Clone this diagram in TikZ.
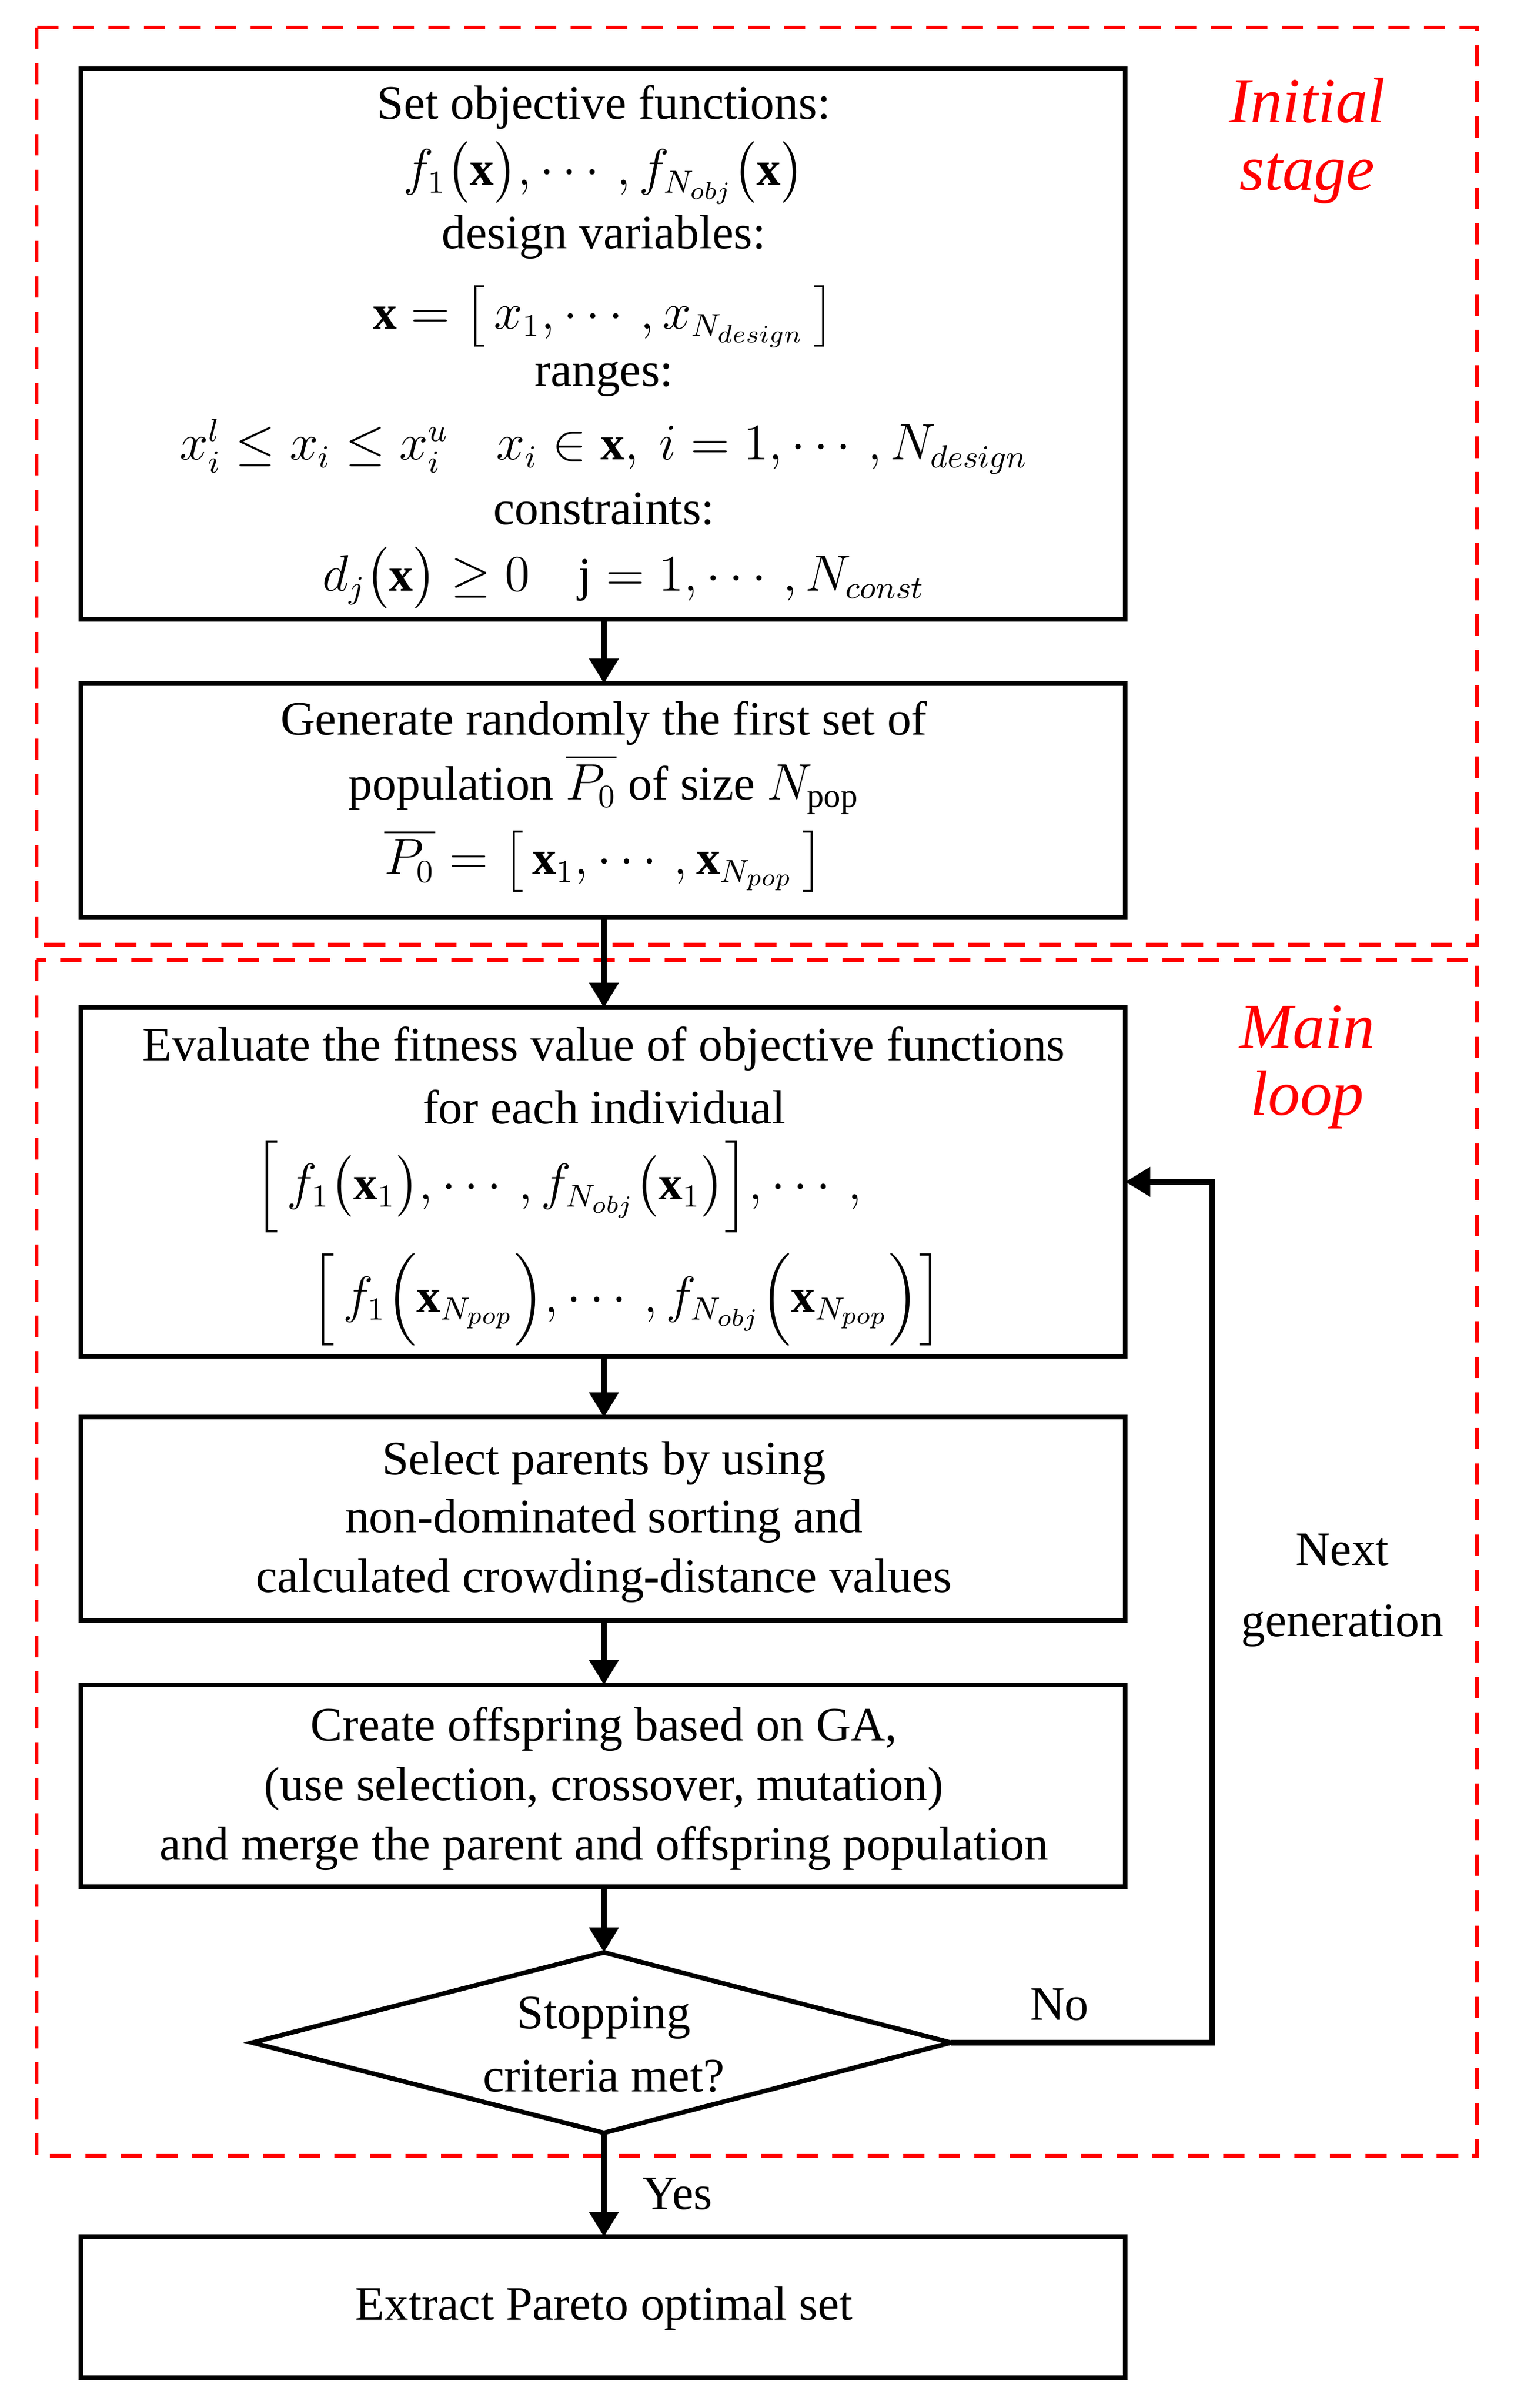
\documentclass[tikz,border=0pt]{standalone}
\usepackage{amsmath}
\usepackage{fontspec}
\setmainfont{Liberation Serif}
\usetikzlibrary{arrows.meta,shapes.geometric}
\begin{document}
\begin{tikzpicture}[x=0.43pt,y=-0.43pt,
  box/.style={draw,line width=1.3pt},
  stage/.style={draw=red,dashed,line width=1.1pt,dash pattern=on 6pt off 4pt},
  t/.style={font=\fontsize{13.5}{16}\selectfont,inner sep=0},
  lab/.style={text=red,font=\fontsize{18}{21}\selectfont\itshape,align=center},
  arr/.style={line width=1.6pt,-{Triangle[length=7pt,width=8pt]}}]
\useasboundingbox (0,0) rectangle (990,1575);
\draw[stage] (24,18) rectangle (966,618);
\draw[stage] (24,628) rectangle (966,1410);
\node[lab] at (855,92) {Initial\\[-2pt]stage};
\node[lab] at (855,698) {Main\\[-2pt]loop};
% box1
\draw[box] (53,45) rectangle (736,405);
\coordinate (b1t) at (395,405);
\node[t] at (395,70) {Set objective functions:};
\node[t] at (395,113) {$f_1\bigl(\mathbf{x}\bigr),\cdots,f_{N_{obj}}\bigl(\mathbf{x}\bigr)$};
\node[t] at (395,155) {design variables:};
\node[t] at (395,207) {$\mathbf{x}=\bigl[\,x_1,\cdots,x_{N_{design}}\,\bigr]$};
\node[t] at (395,248) {ranges:};
\node[t] at (395,292) {$x_i^{l}\le x_i\le x_i^{u}\quad x_i\in\mathbf{x},\ i=1,\cdots,N_{design}$};
\node[t] at (395,333) {constraints:};
\node[t] at (408,378) {$d_j\bigl(\mathbf{x}\bigr)\ge 0\quad \mathrm{j}=1,\cdots,N_{const}$};
% box2
\draw[box] (53,447) rectangle (736,600);
\coordinate (b2t) at (395,447);
\coordinate (b2b) at (395,600);
\node[t] at (395,473) {Generate randomly the first set of};
\node[t] at (395,513) {population $\overline{P_0}$ of size $N_{\text{pop}}$};
\node[t] at (395,563) {$\overline{P_0}=\bigl[\,\mathbf{x}_1,\cdots,\mathbf{x}_{N_{pop}}\,\bigr]$};
% box3
\draw[box] (53,659) rectangle (736,887);
\coordinate (b3t) at (395,659);
\coordinate (b3b) at (395,887);
\coordinate (b3r) at (736,773);
\node[t] at (395,686) {Evaluate the fitness value of objective functions};
\node[t] at (395,724) {for each individual};
\node[t] at (365,776) {$\Bigl[\,f_1\bigl(\mathbf{x}_1\bigr),\cdots,f_{N_{obj}}\bigl(\mathbf{x}_1\bigr)\Bigr],\cdots,$};
\node[t] at (410,850) {$\Bigl[\,f_1\Bigl(\mathbf{x}_{N_{pop}}\Bigr),\cdots,f_{N_{obj}}\Bigl(\mathbf{x}_{N_{pop}}\Bigr)\Bigr]$};
% box4
\draw[box] (53,927) rectangle (736,1060);
\coordinate (b4t) at (395,927);
\coordinate (b4b) at (395,1060);
\node[t] at (395,957) {Select parents by using};
\node[t] at (395,995) {non-dominated sorting and};
\node[t] at (395,1034) {calculated crowding-distance values};
% box5
\draw[box] (53,1102) rectangle (736,1234);
\coordinate (b5t) at (395,1102);
\coordinate (b5b) at (395,1234);
\node[t] at (395,1131) {Create offspring based on GA,};
\node[t] at (395,1170) {(use selection, crossover, mutation)};
\node[t] at (395,1209) {and merge the parent and offspring population};
% diamond
\draw[box] (165,1336) -- (395,1277) -- (622,1336) -- (395,1395) -- cycle;
\coordinate (dt) at (395,1277);
\coordinate (db) at (395,1395);
\coordinate (dr) at (622,1336);
\node[t] at (395,1320) {Stopping};
\node[t] at (395,1358) {criteria met?};
% final
\draw[box] (53,1463) rectangle (736,1555);
\coordinate (ft) at (395,1463);
\node[t] at (395,1510) {Extract Pareto optimal set};
% arrows
\draw[arr] (b1t) -- (b2t);
\draw[arr] (b2b) -- (b3t);
\draw[arr] (b3b) -- (b4t);
\draw[arr] (b4b) -- (b5t);
\draw[arr] (b5b) -- (dt);
\draw[arr] (db) -- (ft);
\draw[arr] (dr) -- (793,1336) -- (793,773) -- (b3r);
\node[t] at (693,1311) {No};
\node[t] at (443,1435) {Yes};
\node[t,align=center] at (878,1040) {Next\\[4pt]generation};
\end{tikzpicture}
\end{document}
